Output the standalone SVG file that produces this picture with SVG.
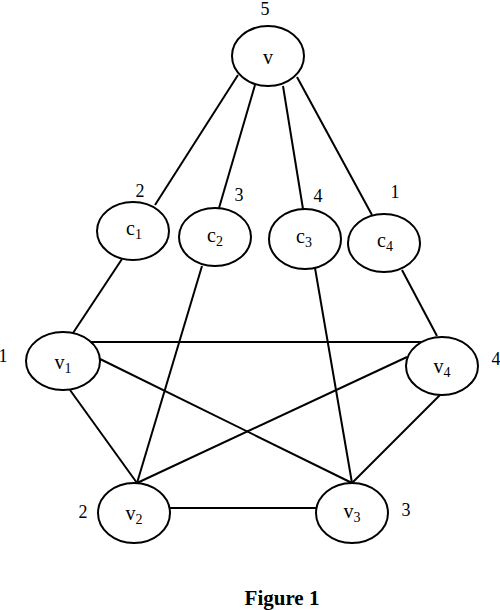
<svg xmlns="http://www.w3.org/2000/svg" width="500" height="610" viewBox="0 0 500 610">
<style>
.e{fill:#fff;stroke:#000;stroke-width:2}
.l{stroke:#000;stroke-width:2;fill:none}
.t{font-family:"Liberation Serif","Times New Roman",serif;font-size:20px;fill:#000;text-anchor:middle}
.s{font-size:14px}
.n{font-family:"Liberation Serif","Times New Roman",serif;font-size:18px;fill:#000;text-anchor:middle}
.f{font-family:"Liberation Serif","Times New Roman",serif;font-size:21px;font-weight:bold;fill:#000;text-anchor:middle}
</style>
<rect width="500" height="610" fill="#fff"/>
<g id="connectors">
<line class="l" x1="238" y1="75" x2="155" y2="205"/>
<line class="l" x1="255" y1="85" x2="219" y2="208"/>
<line class="l" x1="283" y1="86" x2="303" y2="209"/>
<line class="l" x1="297" y1="77" x2="372" y2="215"/>
<line class="l" x1="122" y1="259" x2="73" y2="333"/>
<line class="l" x1="202" y1="266" x2="137" y2="483"/>
<line class="l" x1="315" y1="268" x2="352" y2="483"/>
<line class="l" x1="402" y1="270" x2="437" y2="336"/>
<line class="l" x1="90" y1="342" x2="421" y2="342"/>
<line class="l" x1="98" y1="358" x2="352" y2="483"/>
<line class="l" x1="407" y1="357" x2="137" y2="483"/>
<line class="l" x1="70" y1="390" x2="137" y2="483"/>
<line class="l" x1="440" y1="395" x2="352" y2="483"/>
<line class="l" x1="170" y1="508" x2="317" y2="508"/>
</g>
<g id="node-v">
<ellipse class="e" cx="268" cy="56" rx="36" ry="30"/>
<text class="t" x="268" y="64">v</text>
<text class="n" x="265" y="15">5</text>
</g>
<g id="node-c1">
<ellipse class="e" cx="133" cy="231" rx="36" ry="29"/>
<text class="t" x="134" y="235">c<tspan class="s" dy="4">1</tspan></text>
<text class="n" x="140" y="197">2</text>
</g>
<g id="node-c2">
<ellipse class="e" cx="215" cy="237" rx="36" ry="29"/>
<text class="t" x="215" y="242">c<tspan class="s" dy="4">2</tspan></text>
<text class="n" x="239" y="201">3</text>
</g>
<g id="node-c3">
<ellipse class="e" cx="305" cy="239" rx="36" ry="30"/>
<text class="t" x="304" y="243">c<tspan class="s" dy="4">3</tspan></text>
<text class="n" x="318" y="202">4</text>
</g>
<g id="node-c4">
<ellipse class="e" cx="384" cy="243" rx="36" ry="29"/>
<text class="t" x="385" y="247">c<tspan class="s" dy="4">4</tspan></text>
<text class="n" x="395" y="198">1</text>
</g>
<g id="node-v1">
<ellipse class="e" cx="63" cy="361" rx="37" ry="29"/>
<text class="t" x="63" y="369">v<tspan class="s" dy="4">1</tspan></text>
<text class="n" x="3" y="362">1</text>
</g>
<g id="node-v4">
<ellipse class="e" cx="442" cy="366" rx="36" ry="29"/>
<text class="t" x="442" y="373">v<tspan class="s" dy="4">4</tspan></text>
<text class="n" x="496" y="365">4</text>
</g>
<g id="node-v2">
<ellipse class="e" cx="134" cy="513" rx="36" ry="30"/>
<text class="t" x="134" y="520">v<tspan class="s" dy="4">2</tspan></text>
<text class="n" x="83" y="518">2</text>
</g>
<g id="node-v3">
<ellipse class="e" cx="352" cy="513" rx="36" ry="30"/>
<text class="t" x="352" y="518">v<tspan class="s" dy="4">3</tspan></text>
<text class="n" x="406" y="516">3</text>
</g>
<text class="f" x="282" y="605">Figure 1</text>
</svg>
